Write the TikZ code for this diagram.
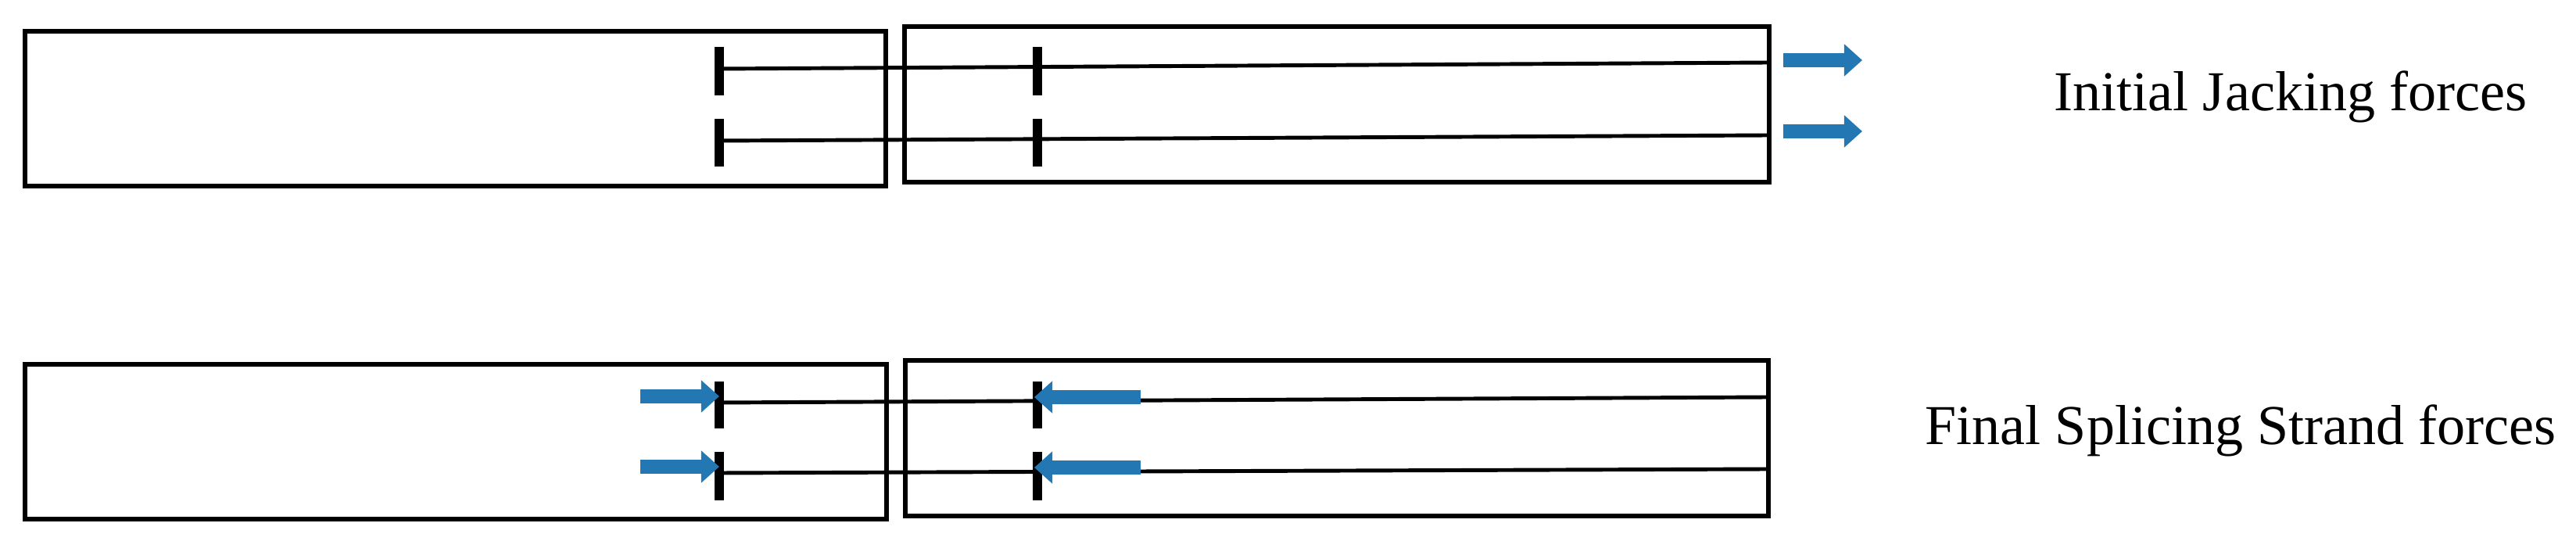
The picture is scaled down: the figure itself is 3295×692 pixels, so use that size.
\documentclass[tikz,border=0pt]{standalone}
\usepackage{fontspec}
\newfontfamily\labfont{Liberation Serif}
\usetikzlibrary{arrows.meta}
\definecolor{arrowblue}{RGB}{35,120,180}
\tikzset{
  segbox/.style={draw=black, line width=1.7pt},
  strandline/.style={draw=black, line width=1.4pt},
  anchorbar/.style={draw=black, line width=3.5pt},
  forcearrow/.style={draw=arrowblue, line width=5.1pt, -{Triangle[length=6.6pt, width=11.4pt]}},
  caption/.style={font=\labfont\fontsize{20.5}{24}\selectfont, inner sep=0pt, anchor=base west}
}
\begin{document}
\begin{tikzpicture}[x=0.01cm, y=-0.01cm]
\useasboundingbox (0,0) rectangle (3295,692);
% ---------- top: initial jacking ----------
\draw[segbox] (32,40) rectangle (1133,238);
\draw[segbox] (1157,34) rectangle (2263,233);
\coordinate (tA1) at (920,88);  \coordinate (tE1) at (2263,80);
\coordinate (tA2) at (920,180); \coordinate (tE2) at (2263,173);
\draw[strandline] (tA1) -- (tE1);
\draw[strandline] (tA2) -- (tE2);
\draw[anchorbar] (920,60) -- (920,122);
\draw[anchorbar] (920,152) -- (920,213);
\draw[anchorbar] (1327,60) -- (1327,122);
\draw[anchorbar] (1327,152) -- (1327,213);
\coordinate (jS1) at (2281,77);  \coordinate (jT1) at (2382,77);
\coordinate (jS2) at (2281,168); \coordinate (jT2) at (2382,168);
\draw[forcearrow] (jS1) -- (jT1);
\draw[forcearrow] (jS2) -- (jT2);
\node[caption] (capA) at (2627,142) {Initial Jacking forces};
% ---------- bottom: final splicing ----------
\draw[segbox] (32,466) rectangle (1134,664);
\draw[segbox] (1158,461) rectangle (2262,660);
\coordinate (bA1) at (920,515); \coordinate (bE1) at (2262,508);
\coordinate (bA2) at (920,605); \coordinate (bE2) at (2262,600);
\draw[strandline] (bA1) -- (bE1);
\draw[strandline] (bA2) -- (bE2);
\draw[anchorbar] (920,488) -- (920,548);
\draw[anchorbar] (920,578) -- (920,640);
\draw[anchorbar] (1327,488) -- (1327,548);
\draw[anchorbar] (1327,578) -- (1327,640);
\coordinate (lS1) at (819,507); \coordinate (lT1) at (920,507);
\coordinate (lS2) at (819,597); \coordinate (lT2) at (920,597);
\draw[forcearrow] (lS1) -- (lT1);
\draw[forcearrow] (lS2) -- (lT2);
\coordinate (rS1) at (1459,508); \coordinate (rT1) at (1323,508);
\coordinate (rS2) at (1459,598); \coordinate (rT2) at (1323,598);
\draw[forcearrow] (rS1) -- (rT1);
\draw[forcearrow] (rS2) -- (rT2);
\node[caption] (capB) at (2462,569) {Final Splicing Strand forces};
\end{tikzpicture}
\end{document}
